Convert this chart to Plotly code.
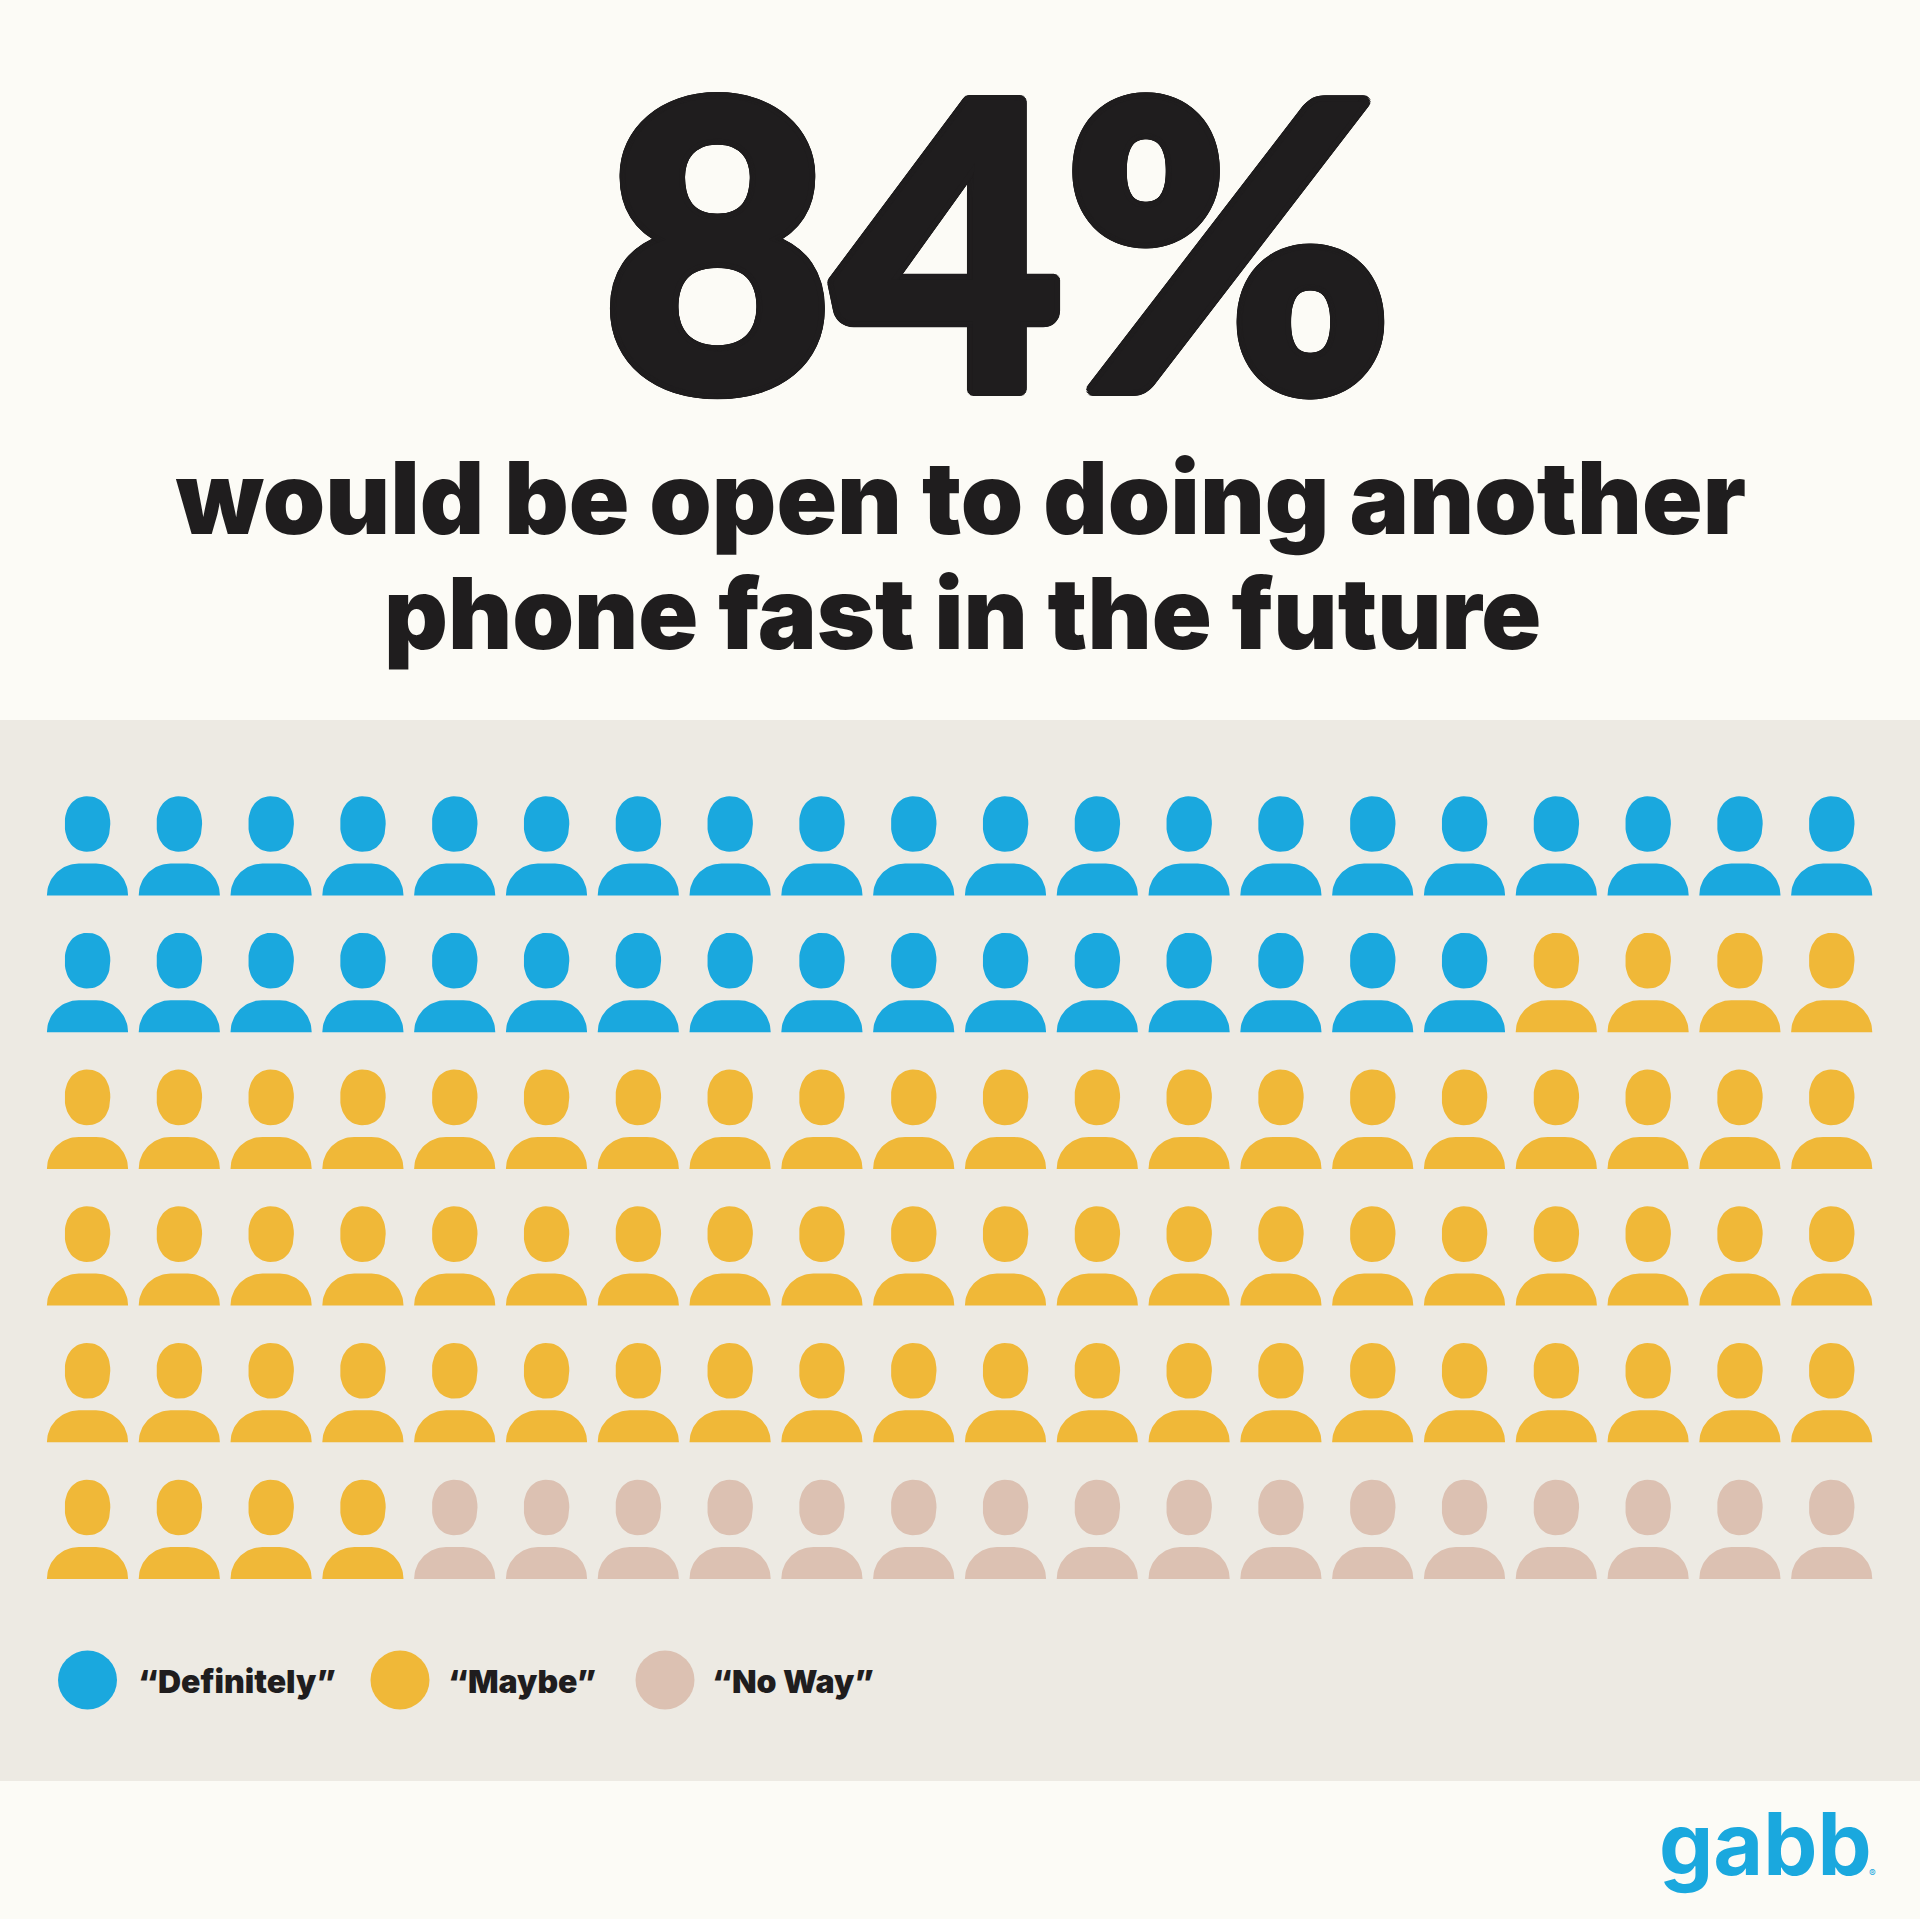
import numpy as np
import plotly.graph_objects as go

# answers, one person icon per share of respondents
categories = ["\u201cDefinitely\u201d", "\u201cMaybe\u201d", "\u201cNo Way\u201d"]
people = [36, 68, 16]
colors = ["#1AA8DE", "#F0B838", "#DCC1B2"]
per_row = 20

W, H = 1920, 1919
BG = "#FCFBF6"
BAND = "#EDEAE3"
INK = "#1F1D1E"
FONT = "Inter"

# grid layout in pixels
COL0, COLSTEP = 87.5, 91.8
ROW0, ROWSTEP = 895.5, 136.7


def icon_outline():
    """Person icon as pixel offsets from the middle of its base line"""
    t = np.linspace(0, 2 * np.pi, 60)
    n = 2.2
    hx = 22.8 * np.sign(np.cos(t)) * np.abs(np.cos(t)) ** (2 / n)
    hy = -71.5 + 27.8 * np.sign(np.sin(t)) * np.abs(np.sin(t)) ** (2 / n)

    a = np.linspace(0, np.pi / 2, 24)
    r = 32.0
    flat = 8.6
    bx = np.concatenate([[-40.6], -flat - r * np.cos(a), flat + r * np.sin(a), [40.6]])
    by = np.concatenate([[0], -r * np.sin(a), -r * np.cos(a), [0]])
    return hx, hy, bx, by


def paper(px, py):
    return px / W, 1 - py / H


hx, hy, bx, by = icon_outline()

fig = go.Figure()

# one trace per answer, the icons fill the grid in reading order
start = 0
for name, count, color in zip(categories, people, colors):
    xs, ys = [], []
    for i in range(start, start + count):
        row, col = divmod(i, per_row)
        for dx, dy in ((hx, hy), (bx, by)):
            xs.extend(col + dx / COLSTEP)
            ys.extend(row + dy / ROWSTEP)
            xs.append(None)
            ys.append(None)
    start += count
    fig.add_trace(go.Scatter(x=xs, y=ys, name=name, mode="lines", fill="toself",
                             fillcolor=color, line=dict(width=0, color=color),
                             hoverinfo="name", showlegend=False))

# grey band behind the icons
fig.add_shape(type="rect", xref="paper", yref="paper", x0=0, x1=1,
              y0=paper(0, 1781)[1], y1=paper(0, 720)[1],
              fillcolor=BAND, line_width=0, layer="below")


def add_text(text, px, py, size, color=INK, weight=900, anchor="center", font=FONT, shadow=None):
    x, y = paper(px, py)
    f = dict(family=font, size=size, color=color, weight=weight)
    if shadow:
        f["shadow"] = shadow
    fig.add_annotation(text=text, x=x, y=y, xref="paper", yref="paper", showarrow=False,
                       xanchor=anchor, yanchor="middle", font=f)


# Lato has the right width for the big number but is too thin, so thicken it
angles = np.linspace(0, 2 * np.pi, 24, endpoint=False)
fat = ", ".join(f"{6 * np.cos(a):.1f}px {6 * np.sin(a):.1f}px 0 {INK}" for a in angles)
add_text("84%", 997, 236, 398, font="Lato", shadow=fat)
add_text("would be open to doing another", 960, 498, 100)
add_text("phone fast in the future", 962, 613, 99)

# legend, drawn by hand because the swatches are large
legend_cx = [87.5, 400, 665]
legend_tx = [136, 446, 710]
for name, color, cx, tx in zip(categories, colors, legend_cx, legend_tx):
    x0, y0 = paper(cx - 29.5, 1709.5)
    x1, y1 = paper(cx + 29.5, 1650.5)
    fig.add_shape(type="circle", xref="paper", yref="paper", x0=x0, x1=x1, y0=y0, y1=y1,
                  fillcolor=color, line_width=0)
    add_text(name, tx, 1681, 32, anchor="left")

# logo
add_text("gabb", 1765, 1844, 86, color=colors[0], weight=700)
add_text("\u00ae", 1872, 1873, 10, color=colors[0], weight=400)

fig.update_layout(
    width=W, height=H,
    margin=dict(l=0, r=0, t=0, b=0),
    paper_bgcolor=BG, plot_bgcolor="rgba(0,0,0,0)",
    xaxis=dict(range=[-COL0 / COLSTEP, (W - COL0) / COLSTEP], visible=False, fixedrange=True),
    yaxis=dict(range=[(H - ROW0) / ROWSTEP, -ROW0 / ROWSTEP], visible=False, fixedrange=True),
)

fig.write_html("out.html", config={"displayModeBar": False},
               post_script="document.body.style.margin='0';")
